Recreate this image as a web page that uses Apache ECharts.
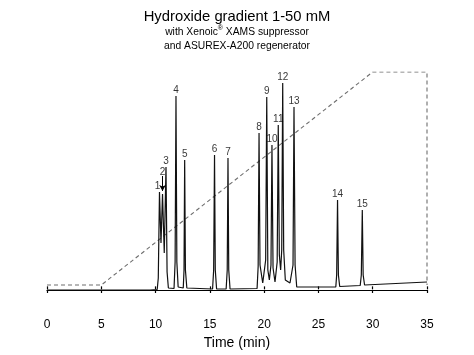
<!DOCTYPE html>
<html>
<head>
<meta charset="utf-8">
<script src="https://cdn.jsdelivr.net/npm/echarts@6/dist/echarts.min.js"></script>
<style>
  html, body { margin: 0; padding: 0; background: #fff; }
  #chart { width: 474px; height: 355px; }
</style>
</head>
<body>
<div id="chart"></div>
<script>
// chromatogram trace: [time (min), response]
var trace = [
  [0, 0], [9.5, 0], [10.15, 0.5],
  [10.25, 12], [10.36, 98], [10.5, 47], [10.64, 96], [10.8, 37], [10.96, 123], [11.06, 18], [11.18, 2],
  [11.7, 1.5], [11.8, 28], [11.88, 194], [11.96, 28], [12.08, 3], [12.25, 2],
  [12.55, 2], [12.62, 20], [12.68, 130], [12.75, 20], [12.88, 2],
  [15.25, 1], [15.35, 20], [15.43, 135], [15.5, 20], [15.62, 1],
  [16.5, 1], [16.6, 20], [16.67, 132], [16.74, 20], [16.86, 1],
  [19.35, 1.5], [19.45, 24], [19.53, 157], [19.62, 25], [19.87, 7],
  [20.14, 30], [20.24, 193], [20.34, 20], [20.48, 10],
  [20.63, 25], [20.72, 145], [20.82, 22], [21.0, 8],
  [21.2, 28], [21.3, 165], [21.4, 35], [21.52, 20],
  [21.62, 40], [21.71, 207], [21.8, 40], [21.95, 10], [22.38, 7],
  [22.66, 25], [22.75, 183], [22.85, 25], [23.0, 3],
  [26.6, 3], [26.68, 15], [26.76, 90], [26.84, 15], [26.96, 3.5],
  [28.85, 4.5], [28.95, 15], [29.04, 80], [29.12, 15], [29.25, 5],
  [35, 8]
];

// peak labels
var peakTimes   = [10.36, 10.64, 10.96, 11.88, 12.68, 15.43, 16.67, 19.53, 20.24, 20.72, 21.3, 21.71, 22.75, 26.76, 29.04];
var peakHeights = [98, 96, 123, 194, 130, 135, 132, 157, 193, 145, 165, 207, 183, 90, 80];
var peakNames   = ['1', '2', '3', '4', '5', '6', '7', '8', '9', '10', '11', '12', '13', '14', '15'];

// eluent gradient (mM KOH) vs time
var gradTimes = [0, 5, 30, 35, 35];
var gradConc  = [1, 1, 50, 50, 1];

var xTicks = [0, 5, 10, 15, 20, 25, 30, 35];

var font = 'Liberation Sans, Arial, sans-serif';
var myChart = echarts.init(document.getElementById('chart'));

var labelData = peakTimes.map(function (t, i) {
  return { value: [t, peakHeights[i]], name: peakNames[i] };
});

myChart.setOption({
  backgroundColor: '#ffffff',
  animation: false,
  title: {
    left: 'center',
    top: 4,
    text: 'Hydroxide gradient 1-50 mM',
    subtext: 'with Xenoic{sup|®} XAMS suppressor\nand ASUREX-A200 regenerator',
    itemGap: 1,
    textStyle: { fontFamily: font, fontSize: 14.8, fontWeight: 'normal', color: '#000' },
    subtextStyle: {
      fontFamily: font, fontSize: 10.3, color: '#000', lineHeight: 14, align: 'center',
      rich: { sup: { fontFamily: font, fontSize: 7, color: '#000', verticalAlign: 'top', lineHeight: 14, padding: [0, 0, 5, 0] } }
    }
  },
  grid: { left: 47, right: 47, top: 72, bottom: 43 },
  xAxis: [{
    type: 'value', min: 0, max: 35, interval: 5,
    axisLine: { lineStyle: { color: '#000', width: 1.2 } },
    axisTick: { show: true, length: 3, lineStyle: { color: '#000', width: 1.2 } },
    axisLabel: { color: '#000', fontFamily: font, fontSize: 12, margin: 7,
      formatter: function (v) { return xTicks.indexOf(v) >= 0 ? String(v) : ''; } },
    splitLine: { show: false },
    name: 'Time (min)', nameLocation: 'middle', nameGap: 23,
    nameTextStyle: { color: '#000', fontFamily: font, fontSize: 14 }
  }, {
    type: 'value', min: 0, max: 35, interval: 5, position: 'bottom',
    axisLine: { show: false },
    axisTick: { show: true, inside: true, length: 3, lineStyle: { color: '#000', width: 1.2 } },
    axisLabel: { show: false },
    splitLine: { show: false }
  }],
  yAxis: [{
    type: 'value', min: -22, max: 218, show: false
  }, {
    type: 'value', min: -5.21, max: 50, show: false
  }],
  series: [{
    name: 'gradient',
    type: 'line',
    xAxisIndex: 0, yAxisIndex: 1,
    data: gradTimes.map(function (t, i) { return [t, gradConc[i]]; }),
    symbol: 'none',
    lineStyle: { color: '#6e6e6e', width: 1.1, type: [4, 3] },
    z: 1
  }, {
    name: 'trace',
    type: 'line',
    xAxisIndex: 0, yAxisIndex: 0,
    data: trace,
    symbol: 'none',
    lineStyle: { color: '#111', width: 1.2 },
    z: 3
  }, {
    name: 'labels',
    type: 'scatter',
    xAxisIndex: 0, yAxisIndex: 0,
    data: labelData,
    symbolSize: 0,
    label: {
      show: true, position: 'top', distance: 1,
      formatter: '{b}', color: '#000', fontFamily: font, fontSize: 10
    },
    labelLayout: function (p) {
      if (p.text === '2') return { dy: -16 };
      if (p.text === '1') return { dx: -2 };
      return {};
    },
    markLine: {
      silent: true,
      symbol: ['none', 'arrow'], symbolSize: [5, 6],
      label: { show: false },
      lineStyle: { color: '#000', width: 1, type: 'solid' },
      data: [[{ coord: [10.64, 114] }, { coord: [10.64, 99] }]]
    },
    z: 4
  }]
});
</script>
</body>
</html>
